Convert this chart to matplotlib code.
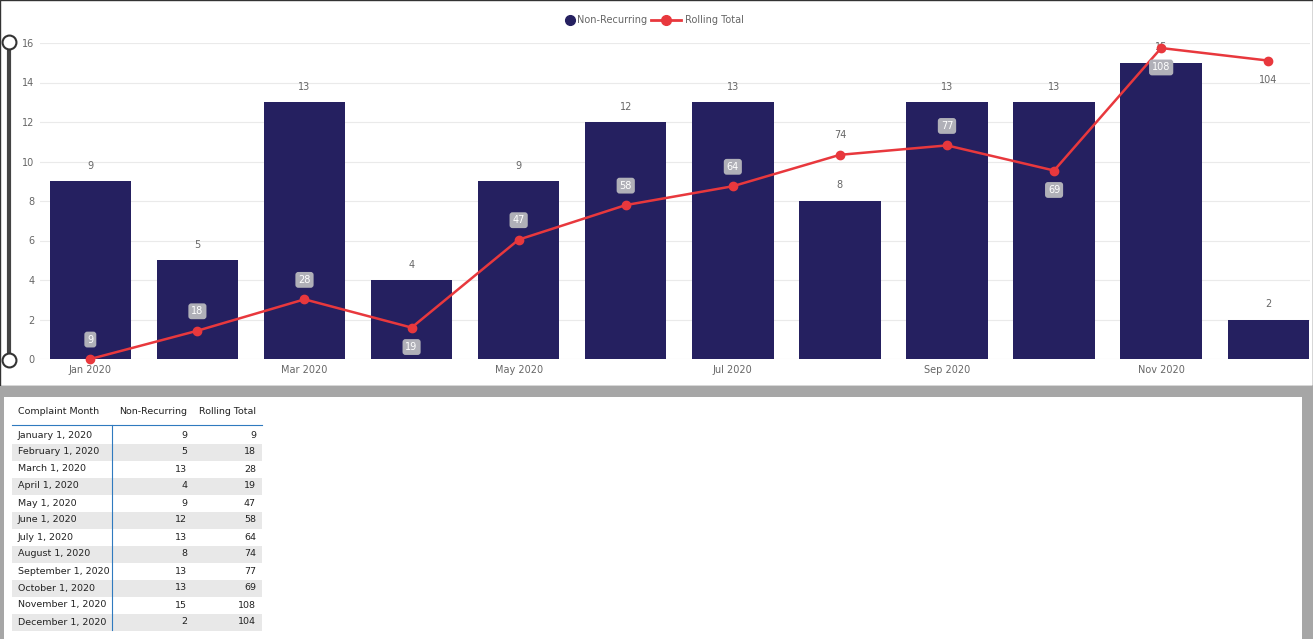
import matplotlib
matplotlib.use("Agg")
import matplotlib.pyplot as plt
from matplotlib.patches import Rectangle
from matplotlib.lines import Line2D

months = ["Jan 2020","Feb 2020","Mar 2020","Apr 2020","May 2020","Jun 2020",
          "Jul 2020","Aug 2020","Sep 2020","Oct 2020","Nov 2020","Dec 2020"]
full_months = ["January 1, 2020","February 1, 2020","March 1, 2020","April 1, 2020",
               "May 1, 2020","June 1, 2020","July 1, 2020","August 1, 2020",
               "September 1, 2020","October 1, 2020","November 1, 2020","December 1, 2020"]
non_recurring = [9,5,13,4,9,12,13,8,13,13,15,2]
rolling_total = [9,18,28,19,47,58,64,74,77,69,108,104]
label_below = [False,False,False,True,False,False,False,False,False,True,True,True]
label_boxed = [True,True,True,True,True,True,True,False,True,True,True,False]

W,H = 1313,639
fig = plt.figure(figsize=(W/100,H/100),dpi=100)
fig.patch.set_facecolor("white")
def fx(x): return x/W
def fy(y): return 1-y/H

navy="#252060"; red="#E8383D"; grey="#666666"
fig.add_artist(Rectangle((0,fy(386)),1,fy(0)-fy(386),transform=fig.transFigure,fc="white",ec="#333333",lw=1,zorder=-10))
fig.add_artist(Rectangle((0,0),1,fy(386),transform=fig.transFigure,fc="#A6A6A6",ec="none",zorder=-10))
fig.add_artist(Rectangle((fx(4),0),fx(1302)-fx(4),fy(397),transform=fig.transFigure,fc="white",ec="none",zorder=-9))

ax = fig.add_axes([fx(40),fy(359),fx(1310)-fx(40),fy(43)-fy(359)])
ax.patch.set_alpha(0)
x = list(range(len(months)))
ax.bar(x,non_recurring,width=0.76,color=navy,zorder=2)
ax.set_ylim(0,16); ax.set_xlim(-0.47,11.39)
ax.set_yticks(range(0,17,2))
ax.set_axisbelow(True)
ax.grid(axis="y",color="#EAEAEA",lw=0.8)
ax.set_xticks(x[::2]); ax.set_xticklabels(months[::2])
ax.tick_params(length=0,labelsize=7,colors=grey,pad=4)
for s in ax.spines.values(): s.set_visible(False)
for i,v in enumerate(non_recurring):
    ax.annotate(str(v),(i,v),xytext=(0,9),textcoords="offset points",ha="center",fontsize=7,color=grey)

ax2 = ax.twinx()
ax2.set_ylim(9,109.6)
ax2.plot(x,rolling_total,color=red,lw=1.8,marker="o",ms=6,zorder=3,clip_on=False)
ax2.axis("off")
for i,v in enumerate(rolling_total):
    dy = -14 if label_below[i] else 14
    bb = dict(boxstyle="round,pad=0.3",fc="#B0B0B8",ec="none") if label_boxed[i] else None
    ax2.annotate(str(v),(i,v),xytext=(0,dy),textcoords="offset points",ha="center",va="center",
                 fontsize=7,color="white" if label_boxed[i] else grey,bbox=bb,zorder=5)

fig.add_artist(Line2D([fx(570)],[fy(20)],marker="o",ms=7,color=navy,transform=fig.transFigure))
fig.text(fx(577),fy(20),"Non-Recurring",fontsize=7,color=grey,va="center")
fig.add_artist(Line2D([fx(651),fx(681)],[fy(20),fy(20)],color=red,lw=2,transform=fig.transFigure))
fig.add_artist(Line2D([fx(666)],[fy(20)],marker="o",ms=7,color=red,transform=fig.transFigure))
fig.text(fx(685),fy(20),"Rolling Total",fontsize=7,color=grey,va="center")

fig.add_artist(Line2D([fx(9),fx(9)],[fy(42),fy(360)],color="#444444",lw=3,transform=fig.transFigure))
for yy in (42,360):
    fig.add_artist(Line2D([fx(9)],[fy(yy)],marker="o",ms=10,mfc="white",mec="#333333",mew=1.5,transform=fig.transFigure))

fs = 6.8
fig.text(fx(18),fy(411),"Complaint Month",fontsize=fs,va="center",color="#222222")
fig.text(fx(187),fy(411),"Non-Recurring",fontsize=fs,va="center",ha="right",color="#222222")
fig.text(fx(256),fy(411),"Rolling Total",fontsize=fs,va="center",ha="right",color="#222222")
fig.add_artist(Line2D([fx(12),fx(262)],[fy(425),fy(425)],color="#2F7ABF",lw=0.8,transform=fig.transFigure))
for i,(m,a,b) in enumerate(zip(full_months,non_recurring,rolling_total)):
    yc = 435+i*17
    if i%2==1:
        fig.add_artist(Rectangle((fx(12),fy(yc+8.5)),fx(262)-fx(12),fy(yc-8.5)-fy(yc+8.5),
                                 transform=fig.transFigure,fc="#E8E8E8",ec="none",zorder=-5))
    fig.text(fx(18),fy(yc),m,fontsize=fs,va="center",color="#222222")
    fig.text(fx(187),fy(yc),str(a),fontsize=fs,va="center",ha="right",color="#222222")
    fig.text(fx(256),fy(yc),str(b),fontsize=fs,va="center",ha="right",color="#222222")
fig.add_artist(Line2D([fx(112),fx(112)],[fy(425),fy(630)],color="#2F7ABF",lw=0.8,transform=fig.transFigure))

fig.savefig("out.png",dpi=100)
